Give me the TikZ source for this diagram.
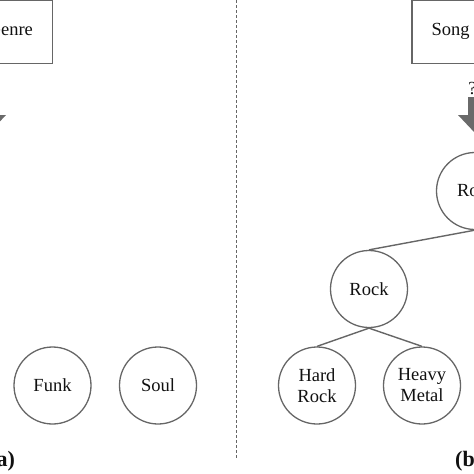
\documentclass[tikz,border=0pt]{standalone}
\usepackage{fontspec}
\setmainfont{Liberation Serif}
\definecolor{linegray}{HTML}{666666}
\definecolor{arrowgray}{HTML}{6A6A6A}
\definecolor{txt}{HTML}{111111}
\tikzset{
  genre/.style={circle, draw=linegray, line width=1.3pt, minimum size=77pt, inner sep=0pt, align=center, text=txt, font=\fontsize{18.5}{21}\selectfont},
  inbox/.style={rectangle, draw=linegray, line width=1.5pt, minimum width=127pt, minimum height=63pt, inner sep=0pt, text=txt, font=\fontsize{18.5}{22}\selectfont},
  edge/.style={draw=linegray, line width=1.4pt},
  panellabel/.style={text=txt, font=\fontsize{22}{26}\selectfont\bfseries, inner sep=0pt, anchor=base west},
  qmark/.style={text=txt, font=\fontsize{18.5}{22}\selectfont, inner sep=0pt},
  divider/.style={draw=linegray, line width=0.7pt, dash pattern=on 3pt off 2pt}
}
\begin{document}
\begin{tikzpicture}[x=1pt,y=-1pt]
\useasboundingbox (0,0) rectangle (474,474);
\clip (0,0) rectangle (474,474);
% left panel
\node[inbox] (boxa) at (-11,31.75) {Song Genre};
\fill[arrowgray] (-18,97) -- (-4,97) -- (-4,115) -- (6,115) -- (-11,133) -- (-28,115) -- (-18,115) -- cycle;
\node[genre] (funk) at (52.5,385.5) {Funk};
\node[genre] (soul) at (158,385.5) {Soul};
\node[panellabel] (la) at (-11,466) {(a)};
% divider
\coordinate (dtop) at (236.5,0);
\coordinate (dbot) at (236.5,459);
\draw[divider] (dtop) -- (dbot);
% right panel
\node[inbox] (boxb) at (475.5,31.75) {Song Genre};
\node[qmark] (q) at (472.5,89) {?};
\fill[arrowgray] (468,97) -- (482,97) -- (482,115) -- (492,115) -- (475,133) -- (458,115) -- (468,115) -- cycle;
\node[genre] (root) at (475,191) {Root};
\node[genre] (rock) at (369,289) {Rock};
\node[genre] (hard) at (317,385.5) {Hard\\Rock};
\node[genre] (heavy) at (422,385.5) {Heavy\\Metal};
\node[panellabel] (lb) at (455,466) {(b)};
\draw[edge] (root.south) -- (rock.north);
\draw[edge] (rock.south) -- (hard.north);
\draw[edge] (rock.south) -- (heavy.north);
\end{tikzpicture}
\end{document}
